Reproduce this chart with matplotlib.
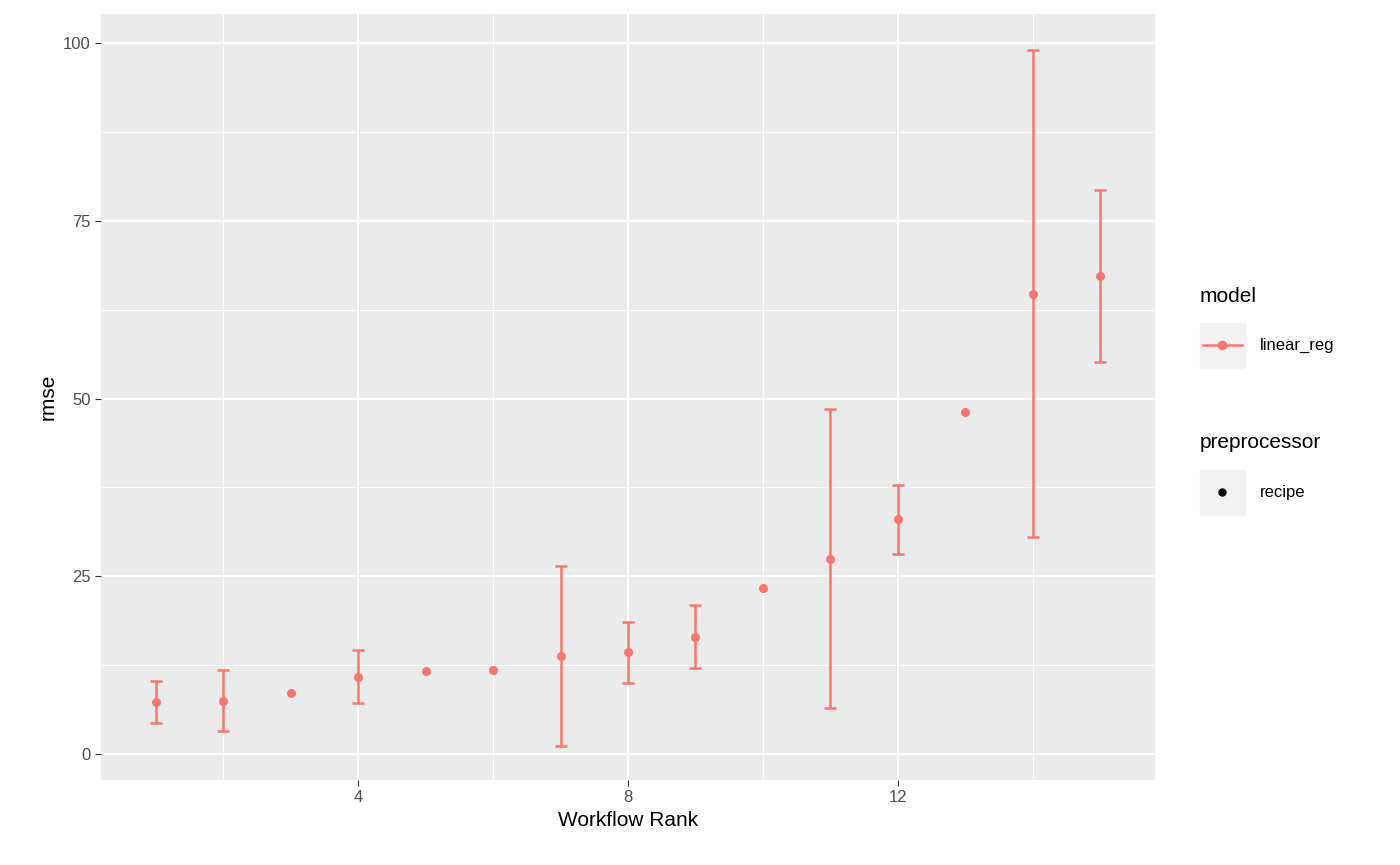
import matplotlib
matplotlib.use("Agg")
import matplotlib.pyplot as plt
from matplotlib.patches import Rectangle
from matplotlib.lines import Line2D

plt.rcParams['font.family'] = ['Liberation Sans', 'DejaVu Sans']

rank = [1,2,3,4,5,6,7,8,9,10,11,12,13,14,15]
rmse = [7.3,7.5,8.6,10.9,11.7,11.8,13.8,14.3,16.5,23.4,27.5,33.0,48.1,64.7,67.2]
lower = [4.3,3.2,None,7.2,None,None,1.1,10.0,12.1,None,6.5,28.2,None,30.5,55.1]
upper = [10.3,11.8,None,14.6,None,None,26.4,18.6,20.9,None,48.6,37.8,None,99.0,79.3]

col = "#F8766D"
fig = plt.figure(figsize=(14, 8.65), dpi=100)
ax = fig.add_axes([101/1400, (865-780)/865, (1155-101)/1400, (780-14)/865])
ax.set_facecolor("#EBEBEB")
for s in ax.spines.values():
    s.set_visible(False)
ax.set_xlim(0.19, 15.81)
ax.set_ylim(-3.66, 104.1)
ax.set_xticks([4, 8, 12])
ax.set_xticks([2, 6, 10, 14], minor=True)
ax.set_yticks([0, 25, 50, 75, 100])
ax.set_yticks([12.5, 37.5, 62.5, 87.5], minor=True)
ax.grid(which="major", color="white", lw=1.4)
ax.grid(which="minor", color="white", lw=0.7)
ax.set_axisbelow(True)
ax.tick_params(which="major", length=4, color="#333333", labelsize=12, labelcolor="#4D4D4D")
ax.tick_params(which="minor", length=0)

for x, y, lo, hi in zip(rank, rmse, lower, upper):
    if lo is not None:
        ax.errorbar([x], [y], yerr=[[y-lo], [hi-y]], fmt="none", ecolor=col,
                    elinewidth=1.8, capsize=4, capthick=1.8)
ax.scatter(rank, rmse, s=30, color=col, zorder=3)
ax.set_xlabel("Workflow Rank", fontsize=15)
ax.set_ylabel("rmse", fontsize=15)

fig.text(1200/1400, 1-296/865, "model", fontsize=15, va="center")
fig.patches.append(Rectangle((1200/1400, 1-368/865), 45/1400, 45/865,
                             transform=fig.transFigure, color="#F2F2F2"))
fig.lines.append(Line2D([1203/1400, 1242/1400], [1-345/865]*2, transform=fig.transFigure,
                        color=col, lw=1.8))
fig.lines.append(Line2D([1222/1400], [1-345/865], transform=fig.transFigure,
                        color=col, marker="o", ms=6))
fig.text(1260/1400, 1-345/865, "linear_reg", fontsize=12, va="center")
fig.text(1200/1400, 1-443/865, "preprocessor", fontsize=15, va="center")
fig.patches.append(Rectangle((1200/1400, 1-515/865), 45/1400, 45/865,
                             transform=fig.transFigure, color="#F2F2F2"))
fig.lines.append(Line2D([1222/1400], [1-492/865], transform=fig.transFigure,
                        color="black", marker="o", ms=5))
fig.text(1260/1400, 1-492/865, "recipe", fontsize=12, va="center")

fig.savefig("out.png", dpi=100)
